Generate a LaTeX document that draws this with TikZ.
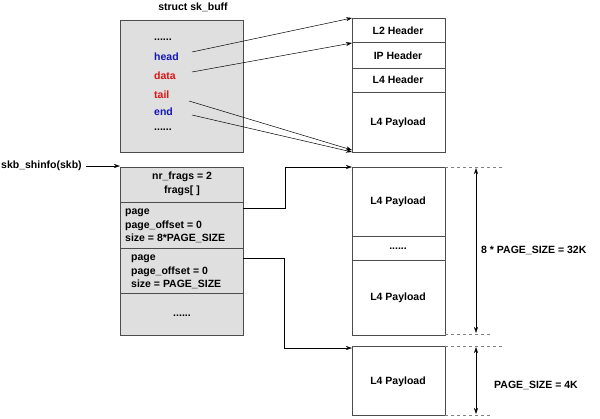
\documentclass[tikz,border=0pt]{standalone}
\usepackage{fontspec}
\setmainfont{Liberation Sans}
\usetikzlibrary{arrows.meta}
\begin{document}
\begin{tikzpicture}[x=1pt,y=-1pt,
  box/.style={draw=black!70,fill=gray!25,line width=0.6pt},
  wbox/.style={draw=black!70,fill=white,line width=0.6pt},
  t/.style={font=\bfseries\fontsize{10.5}{13.5}\selectfont,inner sep=1pt},
  arr/.style={-{Stealth[length=6pt,width=4pt]},line width=0.5pt},
  dsh/.style={dashed,gray,line width=0.5pt}]
\useasboundingbox (0,0) rectangle (600,418);
\definecolor{myblue}{RGB}{20,20,180}
\definecolor{myred}{RGB}{220,20,20}
% sk_buff
\node[t] (title) at (193,7) {struct sk\_buff};
\draw[box] (120,20) rectangle (243,152);
\node[t,anchor=west] (d1) at (153,40) {......};
\node[t,anchor=west,text=myblue] (head) at (153,57) {head};
\node[t,anchor=west,text=myred] (data) at (153,76) {data};
\node[t,anchor=west,text=myred] (tail) at (153,95) {tail};
\node[t,anchor=west,text=myblue] (end) at (153,112) {end};
\node[t,anchor=west] (d2) at (153,130) {......};
% shinfo
\draw[box] (120,167) rectangle (243,335);
\draw[black!70,line width=0.6pt] (120,202)--(243,202) (120,248)--(243,248) (120,293)--(243,293);
\node[t,align=center] (nr) at (182,184) {nr\_frags = 2\\frags[ ]};
\node[t,align=left,anchor=west] (f1) at (124,226) {page\\page\_offset = 0\\size = 8*PAGE\_SIZE};
\node[t,align=left,anchor=west] (f2) at (130,272) {page\\page\_offset = 0\\size = PAGE\_SIZE};
\node[t] (d3) at (182,316) {......};
\node[t,anchor=west] (shi) at (0,166) {skb\_shinfo(skb)};
\coordinate (shiT) at (120,166);
\draw[arr] (shi.east)++(3,0) -- (shiT);
% right stacks
\draw[wbox] (352,18) rectangle (445,152);
\draw[black!70,line width=0.6pt] (352,42)--(445,42) (352,68)--(445,68) (352,92)--(445,92);
\node[t] (l2) at (398,31) {L2 Header};
\node[t] (ip) at (398,56) {IP Header};
\node[t] (l4h) at (398,80) {L4 Header};
\node[t] (l4p) at (398,123) {L4 Payload};
\draw[wbox] (352,167) rectangle (445,335);
\draw[black!70,line width=0.6pt] (352,236)--(445,236) (352,260)--(445,260);
\node[t] (p1) at (398,202) {L4 Payload};
\node[t] (pd) at (398,249) {......};
\node[t] (p2) at (398,298) {L4 Payload};
\draw[wbox] (352,346) rectangle (445,415);
\node[t] (p3) at (398,382) {L4 Payload};
% pointer arrows
\coordinate (hs) at (192,52); \coordinate (ds) at (192,72);
\coordinate (ts) at (189,101); \coordinate (es) at (192,115);
\draw[arr] (hs) -- (352,18);
\draw[arr] (ds) -- (352,43);
\draw[arr] (ts) -- (352,150);
\draw[arr] (es) -- (352,152);
\draw[arr] (243,208) -- (285,208) -- (285,167) -- (352,167);
\draw[arr] (243,258) -- (284,258) -- (284,348) -- (352,348);
% dimensions
\draw[dsh] (445,167)--(503,167) (445,334)--(490,334) (445,346)--(503,346) (445,415)--(490,415);
\draw[arr,{Stealth[length=6pt,width=4pt]}-{Stealth[length=6pt,width=4pt]}] (476,168) -- (476,333);
\draw[arr,{Stealth[length=6pt,width=4pt]}-{Stealth[length=6pt,width=4pt]}] (476,347) -- (476,414);
\node[t,anchor=west] (dim1) at (480,250) {8 * PAGE\_SIZE = 32K};
\node[t,anchor=west] (dim2) at (493,385) {PAGE\_SIZE = 4K};
\end{tikzpicture}
\end{document}
